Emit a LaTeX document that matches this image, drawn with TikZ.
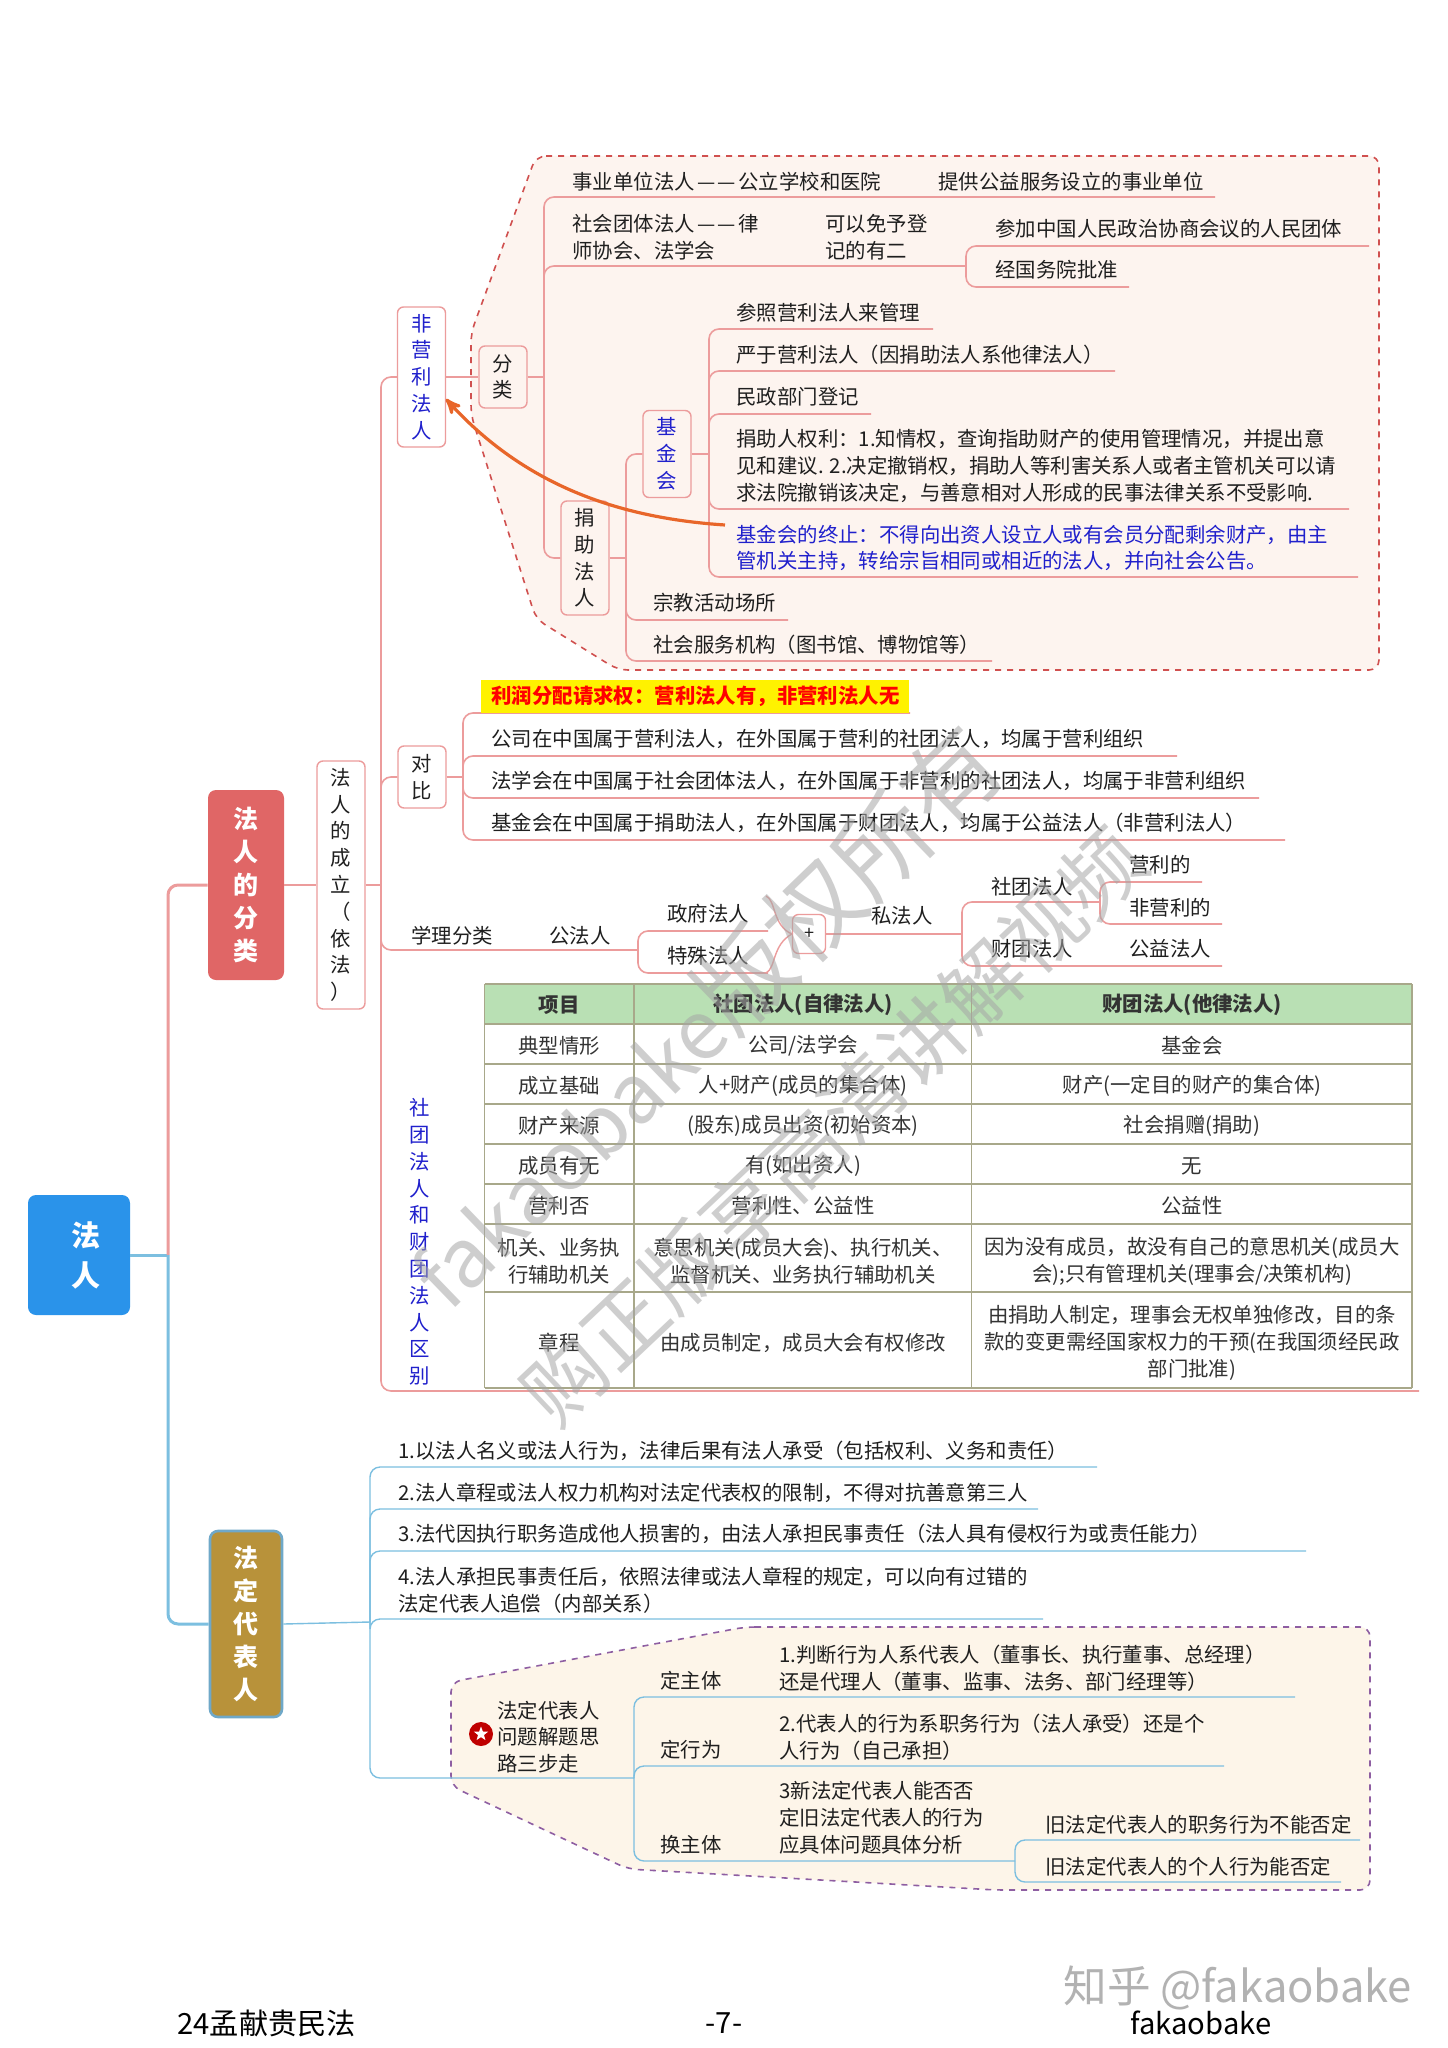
\documentclass[tikz,border=0pt]{standalone}
\usepackage{fontspec}
\setmainfont{Noto Sans CJK SC}
\usetikzlibrary{arrows,positioning,shapes.geometric}
\definecolor{rootblue}{HTML}{2A93EA}
\definecolor{flred}{HTML}{E06666}
\definecolor{fdgold}{HTML}{B8923A}
\definecolor{fdedge}{HTML}{6FA8C8}
\definecolor{redln}{HTML}{EC9C9C}
\definecolor{blueln}{HTML}{7CBFE0}
\definecolor{peach}{HTML}{FDF4EF}
\definecolor{cream}{HTML}{FDF5E9}
\definecolor{dashred}{HTML}{D0504F}
\definecolor{dashpur}{HTML}{8E5EA2}
\definecolor{inkblue}{HTML}{2020CC}
\definecolor{tabhead}{HTML}{B9E0B4}
\definecolor{tabline}{HTML}{A8A88A}
\definecolor{arroworg}{HTML}{E8662A}

\begin{document}
\begin{tikzpicture}
  [x=0.5pt, y=-0.5pt, font=\fontsize{10.2}{13.4}\selectfont, >=stealth',
   redline/.style={draw=redln, line width=0.8pt, rounded corners=5pt},
   redthick/.style={draw=redln, line width=1.5pt, rounded corners=5pt},
   blueline/.style={draw=blueln, line width=0.7pt, rounded corners=5pt},
   bluethick/.style={draw=blueln, line width=1.5pt, rounded corners=5pt},
   txt/.style={anchor=west, inner sep=0pt, align=left, text=black!88},
   bluetxt/.style={txt, text=inkblue},
   topicbox/.style={draw=redln, line width=0.7pt, rounded corners=3pt, inner sep=0pt, align=center, text=black!88},
   bluebox/.style={topicbox, text=inkblue},
   mainbox/.style={rounded corners=4pt, inner sep=0pt, align=center, text=white,
     font=\fontsize{12.5}{16.5}\selectfont\bfseries},
   cell/.style={inner sep=0pt, align=center, text=black!80},
   headcell/.style={cell, font=\fontsize{10.2}{13.4}\selectfont\bfseries},
   wmark/.style={text=gray!70, opacity=0.55, inner sep=0pt, font=\fontsize{41}{41}\selectfont},
   footer/.style={inner sep=0pt, text=black, font=\fontsize{14.6}{16}\selectfont}]

\path[use as bounding box, fill=white] (0,0) rectangle (1447,2048);

% dashed regions
\draw[draw=dashred, fill=peach, dashed, line width=0.8pt, rounded corners=5pt]
  (536,156) -- (1379,156) -- (1379,670) -- (618,670) -- (536,619) -- (471,415) -- (471,333) -- cycle;
\draw[draw=dashpur, fill=cream, dashed, line width=0.8pt, rounded corners=5pt]
  (745,1627) -- (1370,1627) -- (1370,1890) -- (996,1890) -- (628,1869) -- (451,1786) -- (451,1682) -- cycle;

% main boxes
\node[mainbox, fill=rootblue, minimum width=51pt, minimum height=60pt, font=\fontsize{14.5}{20}\selectfont\bfseries] (root) at (79,1255) {\hspace*{6.5pt}法\\\hspace*{6.5pt}人};
\node[mainbox, fill=flred, minimum width=38pt, minimum height=95pt] (fl) at (246,885) {法\\人\\的\\分\\类};
\node[mainbox, fill=fdgold, draw=fdedge, line width=1.3pt, minimum width=36pt, minimum height=93pt] (fd) at (246,1624) {法\\定\\代\\表\\人};

\coordinate (rhub) at (168,1255);
\draw[bluethick] (root.east) -- (rhub);
\draw[redthick] (rhub) |- (fl.west);
\draw[bluethick] (rhub) |- (fd.west);

% first branch
\node[topicbox, minimum width=24pt, minimum height=124pt] (cl) at (341,885) {法\\人\\的\\成\\立\\（\\依\\法\\）};
\node[bluebox, minimum width=24pt, minimum height=70pt] (fei) at (421.5,377) {非\\营\\利\\法\\人};
\node[topicbox, minimum width=24pt, minimum height=31pt] (fl2) at (503,377) {分\\类};
\node[topicbox, minimum width=24pt, minimum height=31pt] (db) at (422,777) {对\\比};
\coordinate (trunk) at (381,885);
\coordinate (xlend) at (638,950);
\coordinate (tabend) at (1419,1391);
\draw[redline] (fl.east) -- (cl.west);
\draw[redline] (cl.east) -- (trunk);
\draw[redline] (trunk) |- (fei.west);
\draw[redline] (trunk) |- (db.west);
\draw[redline] (trunk) |- (xlend);
\draw[redline] (trunk) |- (tabend);
\draw[redline] (fei.east) -- (fl2.west);

\coordinate (hubA) at (544,377);
\draw[redline] (fl2.east) -- (hubA);
\foreach \name/\xe/\ye in {syend/1215/197, stend/966/266}{
  \coordinate (\name) at (\xe,\ye);
  \draw[redline] (hubA) |- (\name);
}
\node[txt] (sy1) at (572,182) {事业单位法人\hspace{1.2pt}—\hspace{1.2pt}—\hspace{1.2pt}公立学校和医院};
\node[txt] (sy2) at (938,182) {提供公益服务设立的事业单位};
\node[txt] (st1) at (572,237) {社会团体法人\hspace{1.2pt}—\hspace{1.2pt}—\hspace{1.2pt}律\\师协会、法学会};
\node[txt] (st2) at (825,237) {可以免予登\\记的有二};
\foreach \name/\xe/\ye in {cjend/1369/246, gwend/1129/287}{
  \coordinate (\name) at (\xe,\ye);
  \draw[redline] (stend) |- (\name);
}
\node[txt] (cj) at (995,229) {参加中国人民政治协商会议的人民团体};
\node[txt] (gw) at (995,270) {经国务院批准};

\node[topicbox, minimum width=24pt, minimum height=57pt] (jz) at (585,558) {捐\\助\\法\\人};
\node[bluebox, minimum width=24pt, minimum height=43.5pt] (jjh) at (667,454) {基\\金\\会};
\draw[redline] (hubA) |- (jz.west);
\coordinate (hubB) at (626,558);
\coordinate (hubC) at (709,454);
\draw[redline] (jz.east) -- (hubB);
\draw[redline] (hubB) |- (jjh.west);
\draw[redline] (jjh.east) -- (hubC);
\foreach \name/\xe/\ye in {zjend/788/620, shend/992/661}{
  \coordinate (\name) at (\xe,\ye);
  \draw[redline] (hubB) |- (\name);
}
\node[txt] (zj) at (653,603) {宗教活动场所};
\node[txt] (sh) at (653,645) {社会服务机构（图书馆、博物馆等）};
\foreach \name/\xe/\ye in {cz/933/329, yy/1115/371, mz/871/414, qu/1349/509, zz/1358/577}{
  \coordinate (\name end) at (\xe,\ye);
  \draw[redline] (hubC) |- (\name end);
}
\node[txt] (cz) at (736,313) {参照营利法人来管理};
\node[txt] (yy) at (736,355) {严于营利法人（因捐助法人系他律法人）};
\node[txt] (mz) at (736,397) {民政部门登记};
\node[txt] (qu) at (736,466) {捐助人权利：1.知情权，查询指助财产的使用管理情况，并提出意\\见和建议. 2.决定撤销权，捐助人等利害关系人或者主管机关可以请\\求法院撤销该决定，与善意相对人形成的民事法律关系不受影响.};
\node[bluetxt] (zz) at (736,548) {基金会的终止：不得向出资人设立人或有会员分配剩余财产，由主\\管机关主持，转给宗旨相同或相近的法人，并向社会公告。};

\coordinate (arrowfrom) at (725,525);
\coordinate (arrowto) at (446,399);
\draw[->, draw=arroworg, line width=1.6pt] (arrowfrom) .. controls (618,518) and (524,485) .. (arrowto);

% duibi
\coordinate (hubD) at (463,777);
\draw[redline] (db.east) -- (hubD);
\foreach \name/\xe/\ye in {lr/910/713, gs/1177/756, fx/1259/798, jj/1285/840}{
  \coordinate (\name end) at (\xe,\ye);
  \draw[redline] (hubD) |- (\name end);
}
\node[anchor=west, fill=yellow, text=red, inner xsep=5pt, inner ysep=0pt, minimum height=16.5pt, font=\fontsize{10.2}{13.4}\selectfont\bfseries] (lr) at (481,696) {利润分配请求权：营利法人有，非营利法人无};
\node[txt] (gs) at (491,739) {公司在中国属于营利法人，在外国属于营利的社团法人，均属于营利组织};
\node[txt] (fx) at (491,781) {法学会在中国属于社会团体法人，在外国属于非营利的社团法人，均属于非营利组织};
\node[txt] (jj) at (491,823) {基金会在中国属于捐助法人，在外国属于财团法人，均属于公益法人（非营利法人）};

% xueli
\node[txt] (xl) at (411,936) {学理分类};
\node[txt] (gf) at (549,936) {公法人};
\node[txt] (zf) at (667,914) {政府法人};
\node[txt] (ts) at (667,956) {特殊法人};
\coordinate (zfend) at (768,931);
\coordinate (tsend) at (768,973);
\draw[redline] (xlend) |- (zfend);
\draw[redline] (xlend) |- (tsend);
\node[topicbox, minimum width=16.5pt, minimum height=19.5pt, font=\fontsize{9}{10}\selectfont] (plus) at (809,934) {+};
\coordinate (braceup) at (766,896);
\coordinate (bracedn) at (766,973);
\draw[draw=redln, line width=0.7pt] (braceup) .. controls (776,900) and (772,925) .. (plus.west) .. controls (772,945) and (776,968) .. (bracedn);
\node[txt] (sf) at (871,916) {私法人};
\coordinate (hubE) at (962,934);
\draw[redline] (plus.east) -- (hubE);
\coordinate (hubF) at (1100,902);
\coordinate (ctend) at (1222,966);
\draw[redline] (hubE) |- (hubF);
\draw[redline] (hubE) |- (ctend);
\coordinate (ylend) at (1202,882);
\coordinate (fyend) at (1222,924);
\draw[redline] (hubF) |- (ylend);
\draw[redline] (hubF) |- (fyend);
\node[txt] (st) at (991,887) {社团法人};
\node[txt] (ct) at (991,949) {财团法人};
\node[txt] (yl) at (1129,865) {营利的};
\node[txt] (fy) at (1129,908) {非营利的};
\node[txt] (gy) at (1129,949) {公益法人};

% table
\fill[tabhead] (484.5,984) rectangle (1412,1024);
\foreach \y in {984,1024,1064,1104,1144,1184,1224,1292,1388}
  \draw[draw=tabline, line width=0.7pt] (484.5,\y) -- (1412,\y);
\foreach \x in {484.5,634,971.5,1412}
  \draw[draw=tabline, line width=0.7pt] (\x,984) -- (\x,1388);
\draw[draw=redln, line width=1pt] (484.5,1391) -- (tabend);
\node[headcell] (heada) at (559,1005) {项目};
\node[headcell] (headb) at (803,1005) {社团法人(自律法人)};
\node[headcell] (headc) at (1192,1005) {财团法人(他律法人)};
\foreach \y/\a/\b/\c [count=\r] in {
  1046/典型情形/{公司/法学会}/基金会,
  1086/成立基础/人+财产(成员的集合体)/财产(一定目的财产的集合体),
  1126/财产来源/(股东)成员出资(初始资本)/社会捐赠(捐助),
  1166/成员有无/有(如出资人)/无,
  1206/营利否/营利性、公益性/公益性,
  1261/机关、业务执\\行辅助机关/意思机关(成员大会)、执行机关、\\监督机关、业务执行辅助机关/{因为没有成员，故没有自己的意思机关(成员大\\会);只有管理机关(理事会/决策机构)},
  1343/章程/由成员制定，成员大会有权修改/由捐助人制定，理事会无权单独修改，目的条\\款的变更需经国家权力的干预(在我国须经民政\\部门批准)}{
  \node[cell] (cella\r) at (559,\y) {\a};
  \node[cell] (cellb\r) at (803,\y) {\b};
  \node[cell] (cellc\r) at (1192,\y) {\c};
}
\node[bluebox, draw=none] (qb) at (420,1242) {社\\团\\法\\人\\和\\财\\团\\法\\人\\区\\别};

% second branch
\coordinate (hubG) at (370,1622);
\draw[blueline] (fd.east) -- (hubG);
\foreach \name/\xe/\ye in {fa/1097/1467, fb/1038/1509, fc/1306/1551, fe/1043/1619, ff/634/1778}{
  \coordinate (\name end) at (\xe,\ye);
  \draw[blueline] (hubG) |- (\name end);
}
\node[txt] (fa) at (398,1451) {1.以法人名义或法人行为，法律后果有法人承受（包括权利、义务和责任）};
\node[txt] (fb) at (398,1493) {2.法人章程或法人权力机构对法定代表权的限制，不得对抗善意第三人};
\node[txt] (fc) at (398,1534) {3.法代因执行职务造成他人损害的，由法人承担民事责任（法人具有侵权行为或责任能力）};
\node[txt] (fe) at (398,1590) {4.法人承担民事责任后，依照法律或法人章程的规定，可以向有过错的\\法定代表人追偿（内部关系）};
\node[circle, fill=red!75!black, minimum size=12pt, inner sep=0pt] (badge) at (481,1734) {};
\node[star, star points=5, star point ratio=2.4, fill=white, minimum size=7.5pt, inner sep=0pt] (badgestar) at (badge) {};
\node[txt] (ff) at (497,1737) {法定代表人\\问题解题思\\路三步走};
\foreach \name/\xe/\ye in {da/1295/1697, dx/1224/1766, dc/1015/1861}{
  \coordinate (\name end) at (\xe,\ye);
  \draw[blueline] (ffend) |- (\name end);
}
\node[txt] (da) at (660,1681) {定主体};
\node[txt] (dx) at (660,1750) {定行为};
\node[txt] (dc) at (660,1845) {换主体};
\node[txt] (dat) at (779,1668) {1.判断行为人系代表人（董事长、执行董事、总经理）\\还是代理人（董事、监事、法务、部门经理等）};
\node[txt] (dxt) at (779,1737) {2.代表人的行为系职务行为（法人承受）还是个\\人行为（自己承担）};
\node[txt] (dct) at (779,1818) {3新法定代表人能否否\\定旧法定代表人的行为\\应具体问题具体分析};
\foreach \name/\xe/\ye in {ja/1360/1840, jb/1341/1882}{
  \coordinate (\name end) at (\xe,\ye);
  \draw[blueline] (dcend) |- (\name end);
}
\node[txt] (ja) at (1045,1825) {旧法定代表人的职务行为不能否定};
\node[txt] (jb) at (1045,1867) {旧法定代表人的个人行为能否定};

% footer and marks
\node[footer, anchor=west] (fta) at (177,2023) {24孟献贵民法};
\node[footer] (ftb) at (724,2023) {-7-};
\node[footer, anchor=west] (ftc) at (1130,2023) {fakaobake};
\node[inner sep=0pt, text=gray!60, anchor=west, font=\fontsize{21.8}{24}\selectfont] (zh) at (1063,1988) {知乎 @fakaobake};
\node[wmark, rotate=44] (wma) at (705,1016) {fakaobake{\fontsize{48}{48}\selectfont 版权所有}};
\node[wmark, rotate=43.4] (wmb) at (833,1126) {购正版享高清讲解视频};
\end{tikzpicture}
\end{document}
